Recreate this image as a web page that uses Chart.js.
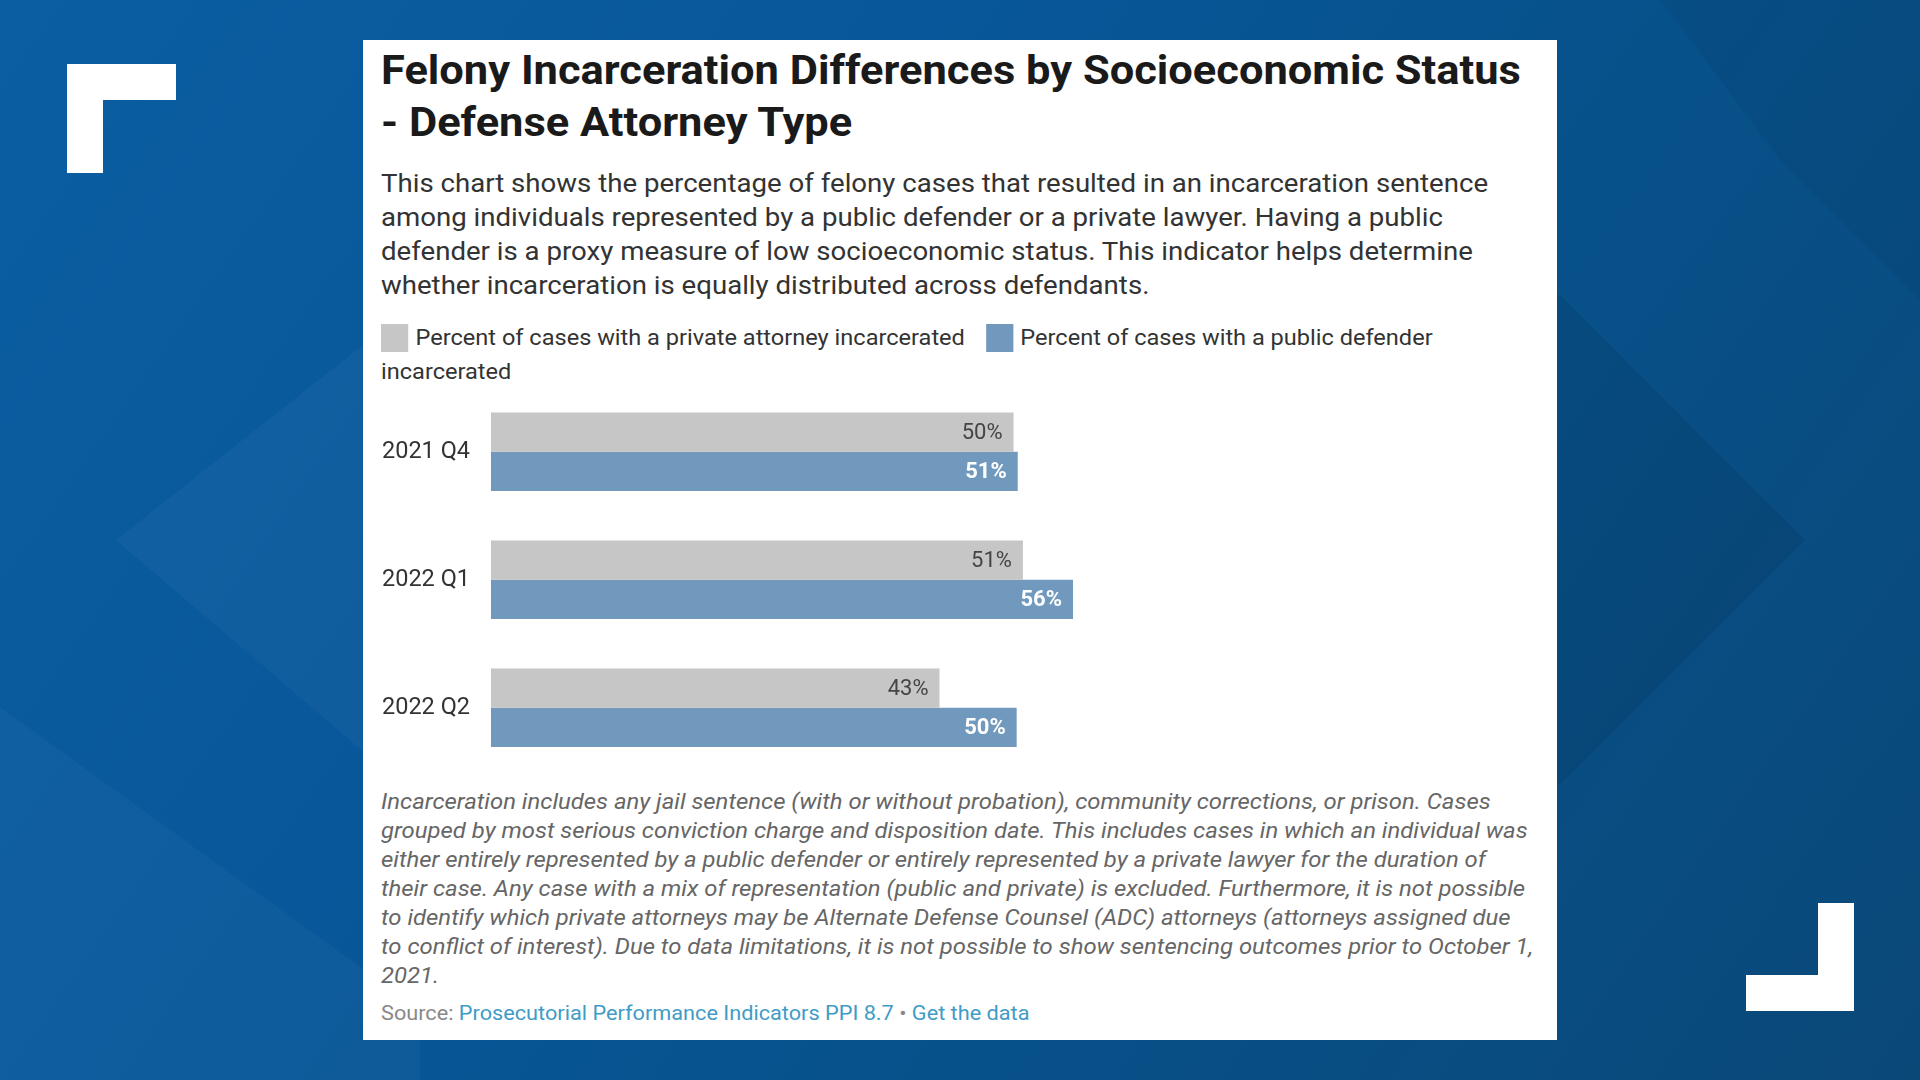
<!DOCTYPE html>
<html>
<head>
<meta charset="utf-8">
<script src="https://cdn.jsdelivr.net/npm/chart.js@4.4.1/dist/chart.umd.min.js"></script>
<style>
  html, body { margin: 0; padding: 0; }
  body {
    width: 1920px; height: 1080px; overflow: hidden; position: relative;
    background: linear-gradient(125deg, #0b5ea2 0%, #08579a 35%, #07528c 60%, #0a4878 100%);
    font-family: Roboto, "Noto Sans", sans-serif;
  }
  #bg { position: absolute; left: 0; top: 0; }
  .bracket { position: absolute; background: #fff; }
  #card {
    position: absolute; left: 363px; top: 40px; width: 1194px; height: 1000px;
    background: #fff;
  }
  /* the original screenshot is a little stretched sideways, hence scaleX */
  .txt { position: absolute; left: 18px; white-space: nowrap; transform-origin: left top; }
  #title { top: 5px; font-size: 40px; line-height: 52px; font-weight: 700; color: #1a1a1a; transform: scaleX(1.086); }
  #desc { top: 126px; font-size: 26.5px; line-height: 34px; color: #333; transform: scaleX(1.042); }
  #legend { top: 280px; font-size: 22.5px; line-height: 34px; color: #333; transform: scaleX(1.047); }
  .sq { display: inline-block; width: 26px; height: 28px; vertical-align: -7px; margin-right: 7px; }
  #notes { top: 747px; font-size: 22px; line-height: 29px; font-style: italic; color: #666; transform: scaleX(1.085); }
  #source { top: 959px; font-size: 21px; line-height: 29px; color: #888; transform: scaleX(1.033); }
  #source .lnk { color: #3f9cc6; }
  #chartBox { position: absolute; left: 0; top: 340px; width: 1194px; height: 400px; }
</style>
</head>
<body>
<svg id="bg" width="1920" height="1080">
  <polygon points="116,540 420,300 1100,300 1100,800 420,800" fill="rgba(255,255,255,0.035)"/>
  <polygon points="0,707 420,1010 420,1080 0,1080" fill="rgba(255,255,255,0.03)"/>
  <polygon points="1805,540 1560,295 1400,295 1400,785 1560,785" fill="rgba(0,0,0,0.07)"/>
  <polygon points="1660,0 1920,0 1920,300 1780,160" fill="rgba(0,0,0,0.04)"/>
</svg>

<div class="bracket" style="left:67px;top:64px;width:109px;height:36px"></div>
<div class="bracket" style="left:67px;top:64px;width:36px;height:109px"></div>
<div class="bracket" style="left:1818px;top:903px;width:36px;height:108px"></div>
<div class="bracket" style="left:1746px;top:975px;width:108px;height:36px"></div>

<div id="card">
  <div id="title" class="txt">Felony Incarceration Differences by Socioeconomic Status<br>- Defense Attorney Type</div>
  <div id="desc" class="txt">This chart shows the percentage of felony cases that resulted in an incarceration sentence<br>among individuals represented by a public defender or a private lawyer. Having a public<br>defender is a proxy measure of low socioeconomic status. This indicator helps determine<br>whether incarceration is equally distributed across defendants.</div>
  <div id="legend" class="txt"></div>
  <div id="chartBox"><canvas id="barChart" width="1194" height="400"></canvas></div>
  <div id="notes" class="txt">Incarceration includes any jail sentence (with or without probation), community corrections, or prison. Cases<br>grouped by most serious conviction charge and disposition date. This includes cases in which an individual was<br>either entirely represented by a public defender or entirely represented by a private lawyer for the duration of<br>their case. Any case with a mix of representation (public and private) is excluded. Furthermore, it is not possible<br>to identify which private attorneys may be Alternate Defense Counsel (ADC) attorneys (attorneys assigned due<br>to conflict of interest). Due to data limitations, it is not possible to show sentencing outcomes prior to October 1,<br>2021.</div>
  <div id="source" class="txt">Source: <span class="lnk">Prosecutorial Performance Indicators PPI 8.7</span> • <span class="lnk">Get the data</span></div>
</div>

<script>
const quarters = ['2021 Q4', '2022 Q1', '2022 Q2'];
const seriesNames = ['Percent of cases with a private attorney incarcerated', 'Percent of cases with a public defender incarcerated'];
const privateAttorney = [50.1, 51.0, 43.0];
const publicDefender = [50.5, 55.8, 50.4];
const seriesColors = ['#c6c6c6', '#7099bd'];
const labelColors = ['#444444', '#ffffff'];

// legend in html so the second entry can wrap like the original
document.getElementById('legend').innerHTML =
  '<span class="sq" style="background:' + seriesColors[0] + '"></span>' + seriesNames[0] +
  '<span style="display:inline-block;width:20px"></span>' +
  '<span class="sq" style="background:' + seriesColors[1] + '"></span>Percent of cases with a public defender<br>incarcerated';

// values drawn inside the end of each bar
const barValueLabels = {
  id: 'barValueLabels',
  afterDatasetsDraw(chart) {
    const ctx = chart.ctx;
    ctx.save();
    ctx.textAlign = 'right';
    ctx.textBaseline = 'middle';
    chart.data.datasets.forEach((ds, di) => {
      ctx.fillStyle = labelColors[di];
      ctx.font = (di === 1 ? '700 ' : '400 ') + '22px Roboto';
      chart.getDatasetMeta(di).data.forEach((bar, i) => {
        ctx.fillText(Math.round(ds.data[i]) + '%', bar.x - 11, bar.y + 1);
      });
    });
    ctx.restore();
  }
};

const barChart = new Chart(document.getElementById('barChart'), {
  type: 'bar',
  data: {
    labels: quarters,
    datasets: [
      { label: seriesNames[0], data: privateAttorney, backgroundColor: seriesColors[0] },
      { label: seriesNames[1], data: publicDefender, backgroundColor: seriesColors[1] }
    ]
  },
  options: {
    indexAxis: 'y',
    responsive: false,
    animation: false,
    categoryPercentage: 0.6125,
    barPercentage: 1,
    layout: { padding: { left: 19, right: 23, top: 7.8, bottom: 8.2 } },
    scales: {
      x: { display: false, min: 0, max: 100 },
      y: {
        grid: { display: false, drawTicks: false },
        border: { display: false },
        ticks: { crossAlign: 'far', padding: 0, color: '#333', font: { family: 'Roboto', size: 23.5 } },
        afterFit: (axis) => { axis.width = 109; axis.paddingTop = 0; axis.paddingBottom = 0; }
      }
    },
    plugins: { legend: { display: false }, tooltip: { enabled: false } }
  },
  plugins: [barValueLabels]
});
</script>
</body>
</html>
